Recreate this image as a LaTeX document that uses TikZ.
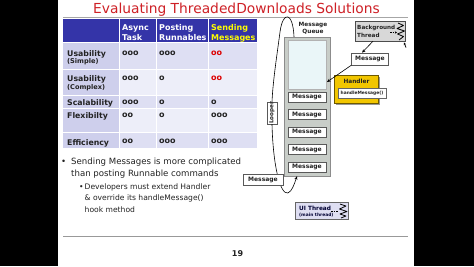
\documentclass[tikz,border=0pt]{standalone}
\usepackage{fontspec}
\setmainfont{DejaVu Sans}
\usetikzlibrary{arrows.meta}
\definecolor{titlered}{RGB}{206,32,38}
\definecolor{hdrblue}{RGB}{52,52,168}
\definecolor{firstcol}{RGB}{206,207,236}
\definecolor{banda}{RGB}{222,223,243}
\definecolor{bandb}{RGB}{237,238,249}
\definecolor{txt}{RGB}{34,34,34}
\definecolor{handlery}{RGB}{242,198,0}
\definecolor{qgray}{RGB}{200,205,200}
\definecolor{qlight}{RGB}{234,246,248}
\definecolor{uithr}{RGB}{222,222,242}
\definecolor{bgthr}{RGB}{216,216,216}
\definecolor{circred}{RGB}{220,0,0}
\definecolor{hdryellow}{RGB}{255,255,0}
\begin{document}
\begin{tikzpicture}[x=1pt,y=-1pt,
  lbl/.style={anchor=base west,inner sep=0,text=txt,font=\bfseries\fontsize{7.8}{9}\selectfont},
  lblsmall/.style={anchor=base west,inner sep=0,text=txt,font=\bfseries\fontsize{6.6}{8}\selectfont},
  hdr/.style={anchor=base west,inner sep=0,text=white,font=\bfseries\fontsize{8}{9}\selectfont},
  circ/.style={anchor=base west,inner sep=0,text=txt,font=\bfseries\fontsize{8}{9}\selectfont},
  body/.style={anchor=base west,inner sep=0,text=txt,font=\fontsize{8.6}{10}\selectfont},
  subtext/.style={anchor=base west,inner sep=0,text=txt,font=\fontsize{7.6}{9}\selectfont},
  msg/.style={draw=black!65,fill=white,line width=0.6pt,minimum width=38pt,minimum height=10pt,inner sep=0,font=\bfseries\fontsize{6}{7}\selectfont,text=txt},
  small/.style={inner sep=0,text=txt,font=\bfseries\fontsize{5.8}{7}\selectfont},
  arr/.style={-{Stealth[length=3.5pt,width=3pt]},line width=0.6pt},
  zig/.style={line width=0.8pt,line join=round}
]
\useasboundingbox (0,0) rectangle (474,266);
\fill[black] (0,0) rectangle (474,266);
\fill[white] (58,0) rectangle (414,266);

% title
\node[anchor=base,inner sep=0,text=titlered,font=\fontsize{13.8}{16}\selectfont] (title) at (236.5,13.5) {Evaluating ThreadedDownloads Solutions};
\draw[black!35,line width=0.8pt] (63,17.5) -- (408,17.5);

% table
\fill[hdrblue] (63,19) rectangle (257,42);
\foreach \ya/\yb/\c in {42/69/banda,69/95/bandb,95/108/banda,108/132/bandb,132/148/banda}{
  \fill[firstcol] (63,\ya) rectangle (119,\yb);
  \fill[\c] (119,\ya) rectangle (257,\yb);
}
\foreach \x in {119,156,208} \draw[white,line width=1pt] (\x,19) -- (\x,148);
\foreach \y in {42,69,95,108,132} \draw[white,line width=1pt] (63,\y) -- (257,\y);

\node[hdr] (h1a) at (122,30) {Async};
\node[hdr] (h1b) at (122,40) {Task};
\node[hdr] (h2a) at (159,30) {Posting};
\node[hdr] (h2b) at (159,40) {Runnables};
\node[hdr,text=hdryellow] (h3a) at (211,30) {Sending};
\node[hdr,text=hdryellow] (h3b) at (211,40) {Messages};

\node[lbl] (r1a) at (67,56) {Usability};
\node[lblsmall] (r1b) at (67,63.5) {(Simple)};
\node[lbl] (r2a) at (67,81) {Usability};
\node[lblsmall] (r2b) at (67,89) {(Complex)};
\node[lbl] (r3) at (67,105) {Scalability};
\node[lbl] (r4) at (67,118) {Flexibilty};
\node[lbl] (r5) at (67,145) {Efficiency};

\node[circ] (c11) at (122,55) {ooo};
\node[circ] (c12) at (159,55) {ooo};
\node[circ,text=circred] (c13) at (211,55) {oo};
\node[circ] (c21) at (122,80) {ooo};
\node[circ] (c22) at (159,80) {o};
\node[circ,text=circred] (c23) at (211,80) {oo};
\node[circ] (c31) at (122,104.5) {ooo};
\node[circ] (c32) at (159,104.5) {o};
\node[circ] (c33) at (211,104.5) {o};
\node[circ] (c41) at (122,117) {oo};
\node[circ] (c42) at (159,117) {o};
\node[circ] (c43) at (211,117) {ooo};
\node[circ] (c51) at (122,143.5) {oo};
\node[circ] (c52) at (159,143.5) {ooo};
\node[circ] (c53) at (211,143.5) {ooo};

% bullets
\node[body] (b1) at (61,164.5) {•};
\node[body] (t1) at (71,164.5) {Sending Messages is more complicated};
\node[body] (t2) at (71,176.5) {than posting Runnable commands};
\node[subtext] (b2) at (79,189) {•};
\node[subtext] (s1) at (84.5,189) {Developers must extend Handler};
\node[subtext] (s2) at (84.5,200.5) {\& override its handleMessage()};
\node[subtext] (s3) at (84.5,212) {hook method};

\draw[black!40,line width=0.9pt] (63,236) -- (408,236);
\node[anchor=base,inner sep=0,text=txt,font=\bfseries\fontsize{8}{9}\selectfont] (pg) at (237.5,256) {19};

% message queue
\node[draw=black!45,fill=qgray,minimum width=46pt,minimum height=139pt,inner sep=0] (q) at (307,106.5) {};
\fill[qlight,draw=black!30] (288,40) rectangle (326,89);
\foreach \i/\y in {1/97,2/114.5,3/132,4/149.5,5/167}
  \node[msg] (qm\i) at (307,\y) {Message};
\node[small,anchor=base] (mqa) at (313,26.5) {Message};
\node[small,anchor=base] (mqb) at (313,33.5) {Queue};

% looper
\node[draw=black!65,fill=white,rotate=90,minimum width=22pt,minimum height=10pt,inner sep=0,text=txt,font=\bfseries\fontsize{5.6}{7}\selectfont] (loop) at (272,113) {Looper};
\coordinate (lpb) at (288,193);
\draw[line width=0.6pt] ([xshift=-13pt]q.north) .. controls (293,12) and (283,10) .. (280,32) .. controls (277,55) and (273,80) .. (loop.east);
\draw[line width=0.6pt] (loop.west) .. controls (273,165) and (280,195) .. (lpb);
\draw[arr] (lpb) .. controls (292,191) and (294,185) .. ([xshift=-10pt]q.south);

\node[msg,minimum width=40pt,minimum height=11pt] (lm) at (263,179.5) {Message};

% background thread
\node[draw=black!70,fill=bgthr,minimum width=50pt,minimum height=20pt,inner sep=0] (bt) at (380,31) {};
\node[small,anchor=base west,font=\bfseries\fontsize{5.65}{7}\selectfont] (bta) at (357,29) {Background};
\node[small,anchor=base west,font=\bfseries\fontsize{5.65}{7}\selectfont] (btb) at (357,37) {Thread};
\draw[zig] (398,23) -- (403.5,25.5) -- (397,28.5) -- (404.5,31) -- (397.5,34) -- (403.5,36.5) -- (399,40);
\draw[line width=0.6pt,dashed,dash pattern=on 1.5pt off 1pt,-{Stealth[length=2pt,width=2pt]}] (390,32.5) -- (397,32.5);
\draw[-{Stealth[length=2.5pt,width=2.5pt]},line width=0.8pt] (406,47.5) -- (404,42.5);

\node[msg,minimum width=37pt,minimum height=12pt] (tm) at (370,59) {Message};
\draw[arr] ([xshift=-7pt]bt.south) -- ([xshift=-8pt]tm.north);

% handler
\fill[black!40] (336,77) rectangle (380,105);
\node[draw=black!55!handlery,fill=handlery,minimum width=44pt,minimum height=28pt,inner sep=0] (hd) at (356,89) {};
\node[small,anchor=base,font=\bfseries\fontsize{5.8}{7}\selectfont] (hdt) at (356.5,83.5) {Handler};
\node[draw=black!60,fill=white,minimum width=48pt,minimum height=10pt,inner sep=0,text=txt,font=\bfseries\fontsize{4.4}{5}\selectfont] (hm) at (362,93) {handleMessage()};
\coordinate (qin) at (327,82);
\draw[arr] (tm.south west) -- (qin);

% UI thread
\node[draw=black!60,fill=uithr,minimum width=53pt,minimum height=17pt,inner sep=0] (ui) at (321.5,210.5) {};
\node[small,anchor=base west,text=black!80!blue] (uia) at (299,210) {UI Thread};
\node[small,anchor=base west,text=black!80!blue,font=\bfseries\fontsize{4.4}{5}\selectfont] (uib) at (299,216) {(main thread)};
\draw[zig] (340,204) -- (346,206) -- (339.5,209) -- (347,211.5) -- (340,214) -- (346,216) -- (341,218);
\draw[line width=0.6pt,dashed,dash pattern=on 1.5pt off 1pt] (331,211) -- (338.5,211);
\end{tikzpicture}
\end{document}
